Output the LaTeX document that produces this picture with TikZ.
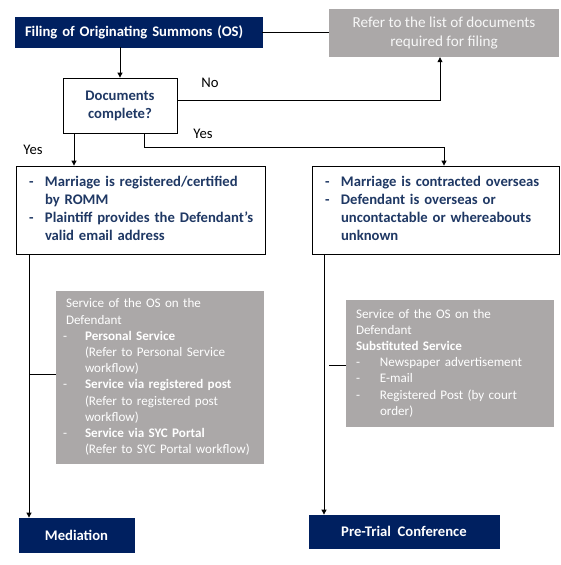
\documentclass[tikz,border=0pt]{standalone}
\usepackage{fontspec}
\setmainfont{Carlito}
\usetikzlibrary{arrows.meta,calc}
\definecolor{navy}{RGB}{0,32,96}
\definecolor{navytext}{RGB}{31,56,100}
\definecolor{boxgray}{RGB}{171,168,168}
\tikzset{
  darkbox/.style={draw=navy, fill=navy, text=white, line width=0.8pt,
    font=\bfseries\fontsize{14.67}{17.9}\selectfont, inner sep=0pt},
  whitebox/.style={draw=black, fill=white, line width=0.8pt, text=navytext,
    font=\bfseries\fontsize{14.67}{17.9}\selectfont, inner sep=0pt},
  graybox/.style={fill=boxgray, text=white, inner sep=0pt,
    font=\fontsize{13.1}{16.2}\selectfont},
  lbl/.style={font=\fontsize{14.67}{17.9}\selectfont, inner sep=0pt},
  conn/.style={draw=black, line width=0.8pt},
  arr/.style={conn, -{Triangle[length=5pt,width=5pt]}},
}
\begin{document}
\begin{tikzpicture}[x=1pt,y=-1pt]
\useasboundingbox (0,0) rectangle (561,565);
% top row
\node[darkbox, minimum width=247pt, minimum height=30pt, text width=227pt,
  inner xsep=10pt, align=left] (filing) at (138.5,32) {Filing of Originating Summons (OS)};
\node[graybox, minimum width=230pt, minimum height=48pt, align=center,
  font=\fontsize{15.2}{19.2}\selectfont, text=white!94!gray] (refer) at (444,33)
  {Refer to the list of documents\\required for filing};
% decision
\node[whitebox, minimum width=114pt, minimum height=55pt, align=center] (docs)
  at (120,105.5) {Documents\\complete?};
% condition boxes
\node[whitebox, minimum width=249pt, minimum height=88pt, text width=223pt,
  inner xsep=13pt, align=left] (lbox) at (140.5,210)
  {\begin{tabular}{@{}p{16pt}@{}l@{}}
   -&Marriage is registered/certified\\
    &by ROMM\\
   -&Plaintiff provides the Defendant’s\\
    &valid email address
   \end{tabular}};
\node[whitebox, minimum width=247pt, minimum height=88pt, text width=221pt,
  inner xsep=13pt, align=left] (rbox) at (435.5,210)
  {\begin{tabular}{@{}p{16pt}@{}l@{}}
   -&Marriage is contracted overseas\\
   -&Defendant is overseas or\\
    &uncontactable or whereabouts\\
    &unknown
   \end{tabular}};
% service boxes
\node[graybox, minimum width=208pt, minimum height=173pt, text width=188pt,
  inner xsep=10pt, align=left] (lgray) at (160,377.5)
  {\begin{tabular}{@{}p{19pt}@{}l@{}}
   \multicolumn{2}{@{}l@{}}{Service of the OS on the}\\
   \multicolumn{2}{@{}l@{}}{Defendant}\\
   \hspace{-3pt}-&\textbf{Personal Service}\\
    &(Refer to Personal Service\\
    &workflow)\\
   \hspace{-3pt}-&\textbf{Service via registered post}\\
    &(Refer to registered post\\
    &workflow)\\
   \hspace{-3pt}-&\textbf{Service via SYC Portal}\\
    &(Refer to SYC Portal workflow)
   \end{tabular}};
\node[graybox, minimum width=208pt, minimum height=127pt, text width=188pt,
  inner xsep=10pt, align=left] (rgray) at (450,363.5)
  {\begin{tabular}{@{}p{24pt}@{}l@{}}
   \multicolumn{2}{@{}l@{}}{Service of the OS on the}\\
   \multicolumn{2}{@{}l@{}}{Defendant}\\
   \multicolumn{2}{@{}l@{}}{\textbf{Substituted Service}}\\
   -&Newspaper advertisement\\
   -&E-mail\\
   -&Registered Post (by court\\
    &order)
   \end{tabular}};
% outcomes
\node[darkbox, minimum width=115pt, minimum height=34pt] (med) at (76.5,535) {Mediation};
\node[darkbox, minimum width=190pt, minimum height=33pt] (ptc) at (404,531.5) {Pre-Trial\ \ Conference};
% labels
\node[lbl] (no) at (210,83) {No};
\node[lbl] (yesr) at (203,134) {Yes};
\node[lbl] (yesl) at (33,150) {Yes};
% connectors
\draw[conn] (filing.east) -- (filing.east -| refer.west);
\draw[arr] (docs.north |- filing.south) -- (docs.north);
\draw[arr] ([yshift=5.5pt]docs.east) -| ([xshift=-4pt]refer.south);
\draw[arr] ([xshift=-46pt]docs.south) -- ([xshift=-46pt]docs.south |- lbox.north);
\coordinate (ry) at (444,147);
\draw[arr] ([xshift=24pt]docs.south) |- (ry) -- (ry |- rbox.north);
\coordinate (lv) at (29,254);
\draw[arr] (lv) -- (lv |- med.north);
\draw[conn] ([yshift=3.5pt]lgray.west) -- ([yshift=3.5pt]lgray.west -| lv);
\coordinate (rv) at (324,254);
\draw[arr] (rv) -- (rv |- ptc.north);
\coordinate (rstub) at (329,365);
\draw[conn] (rstub) -- (rstub -| rgray.west);
\end{tikzpicture}
\end{document}
